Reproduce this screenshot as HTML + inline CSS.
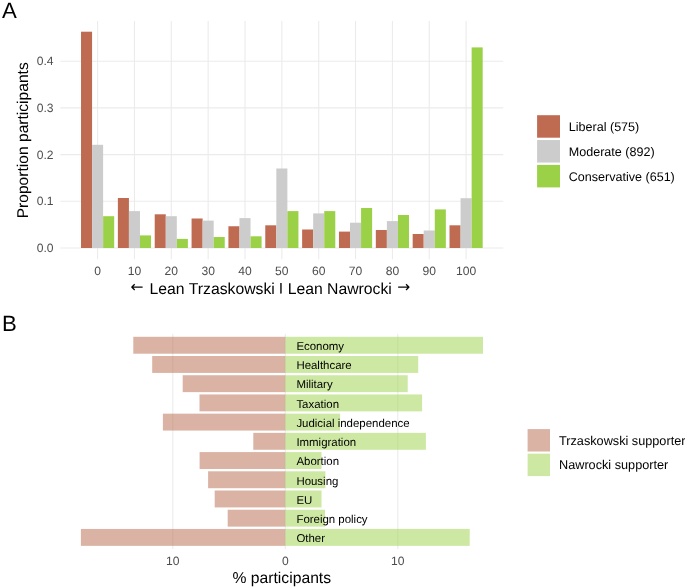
<!DOCTYPE html>
<html><head><meta charset="utf-8"><title>Figure</title>
<style>html,body{margin:0;padding:0;background:#fff}svg{display:block}</style></head>
<body>
<svg width="685" height="588" viewBox="0 0 685 588" text-rendering="geometricPrecision" font-family="'Liberation Sans', Arial, Helvetica, sans-serif">
<rect width="685" height="588" fill="#fff"/>
<g stroke="#EBEBEB" stroke-width="1.07" fill="none">
<line x1="60.4" x2="503.2" y1="248.00" y2="248.00"/>
<line x1="60.4" x2="503.2" y1="201.30" y2="201.30"/>
<line x1="60.4" x2="503.2" y1="154.60" y2="154.60"/>
<line x1="60.4" x2="503.2" y1="107.90" y2="107.90"/>
<line x1="60.4" x2="503.2" y1="61.20" y2="61.20"/>
<line x1="97.60" x2="97.60" y1="21.0" y2="259.2"/>
<line x1="134.45" x2="134.45" y1="21.0" y2="259.2"/>
<line x1="171.30" x2="171.30" y1="21.0" y2="259.2"/>
<line x1="208.15" x2="208.15" y1="21.0" y2="259.2"/>
<line x1="245.00" x2="245.00" y1="21.0" y2="259.2"/>
<line x1="281.85" x2="281.85" y1="21.0" y2="259.2"/>
<line x1="318.70" x2="318.70" y1="21.0" y2="259.2"/>
<line x1="355.55" x2="355.55" y1="21.0" y2="259.2"/>
<line x1="392.40" x2="392.40" y1="21.0" y2="259.2"/>
<line x1="429.25" x2="429.25" y1="21.0" y2="259.2"/>
<line x1="466.10" x2="466.10" y1="21.0" y2="259.2"/>
</g>
<rect x="81.02" y="31.70" width="11.05" height="216.30" fill="#BF6B52"/>
<rect x="92.07" y="144.80" width="11.05" height="103.20" fill="#CCCCCC"/>
<rect x="103.13" y="216.20" width="11.05" height="31.80" fill="#9BD146"/>
<rect x="117.87" y="198.00" width="11.05" height="50.00" fill="#BF6B52"/>
<rect x="128.92" y="211.10" width="11.05" height="36.90" fill="#CCCCCC"/>
<rect x="139.98" y="235.40" width="11.05" height="12.60" fill="#9BD146"/>
<rect x="154.72" y="214.30" width="11.05" height="33.70" fill="#BF6B52"/>
<rect x="165.77" y="216.20" width="11.05" height="31.80" fill="#CCCCCC"/>
<rect x="176.83" y="238.90" width="11.05" height="9.10" fill="#9BD146"/>
<rect x="191.57" y="218.50" width="11.05" height="29.50" fill="#BF6B52"/>
<rect x="202.62" y="220.60" width="11.05" height="27.40" fill="#CCCCCC"/>
<rect x="213.68" y="237.00" width="11.05" height="11.00" fill="#9BD146"/>
<rect x="228.42" y="226.25" width="11.05" height="21.75" fill="#BF6B52"/>
<rect x="239.47" y="218.10" width="11.05" height="29.90" fill="#CCCCCC"/>
<rect x="250.53" y="236.30" width="11.05" height="11.70" fill="#9BD146"/>
<rect x="265.27" y="225.30" width="11.05" height="22.70" fill="#BF6B52"/>
<rect x="276.32" y="168.50" width="11.05" height="79.50" fill="#CCCCCC"/>
<rect x="287.38" y="211.10" width="11.05" height="36.90" fill="#9BD146"/>
<rect x="302.12" y="229.50" width="11.05" height="18.50" fill="#BF6B52"/>
<rect x="313.17" y="213.40" width="11.05" height="34.60" fill="#CCCCCC"/>
<rect x="324.23" y="211.10" width="11.05" height="36.90" fill="#9BD146"/>
<rect x="338.97" y="231.60" width="11.05" height="16.40" fill="#BF6B52"/>
<rect x="350.02" y="222.70" width="11.05" height="25.30" fill="#CCCCCC"/>
<rect x="361.08" y="208.00" width="11.05" height="40.00" fill="#9BD146"/>
<rect x="375.82" y="230.00" width="11.05" height="18.00" fill="#BF6B52"/>
<rect x="386.87" y="221.10" width="11.05" height="26.90" fill="#CCCCCC"/>
<rect x="397.93" y="215.00" width="11.05" height="33.00" fill="#9BD146"/>
<rect x="412.67" y="234.00" width="11.05" height="14.00" fill="#BF6B52"/>
<rect x="423.72" y="230.50" width="11.05" height="17.50" fill="#CCCCCC"/>
<rect x="434.78" y="209.40" width="11.05" height="38.60" fill="#9BD146"/>
<rect x="449.52" y="225.30" width="11.05" height="22.70" fill="#BF6B52"/>
<rect x="460.57" y="198.20" width="11.05" height="49.80" fill="#CCCCCC"/>
<rect x="471.63" y="47.40" width="11.05" height="200.60" fill="#9BD146"/>
<g font-size="12.1" fill="#4D4D4D" text-anchor="end">
<text x="53.6" y="251.90">0.0</text>
<text x="53.6" y="205.20">0.1</text>
<text x="53.6" y="158.50">0.2</text>
<text x="53.6" y="111.80">0.3</text>
<text x="53.6" y="65.10">0.4</text>
</g>
<g font-size="12.1" fill="#4D4D4D" text-anchor="middle">
<text x="97.60" y="275.1">0</text>
<text x="134.45" y="275.1">10</text>
<text x="171.30" y="275.1">20</text>
<text x="208.15" y="275.1">30</text>
<text x="245.00" y="275.1">40</text>
<text x="281.85" y="275.1">50</text>
<text x="318.70" y="275.1">60</text>
<text x="355.55" y="275.1">70</text>
<text x="392.40" y="275.1">80</text>
<text x="429.25" y="275.1">90</text>
<text x="466.10" y="275.1">100</text>
</g>
<text y="293.6" font-size="15.75" fill="#000"><tspan x="130.5" font-family="'DejaVu Sans', sans-serif" font-size="15.5" dy="-1.6">←</tspan><tspan x="149.6" dy="1.6">Lean Trzaskowski </tspan><tspan x="279.6" font-size="10.8" dy="-3.1" stroke="#000" stroke-width="0.45">|</tspan><tspan x="287.7" dy="3.1">Lean Nawrocki</tspan><tspan x="397.2" font-family="'DejaVu Sans', sans-serif" font-size="15.5" dy="-1.6">→</tspan></text>
<text transform="translate(28.3,140.3) rotate(-90)" font-size="15.6" text-anchor="middle" fill="#000">Proportion participants</text>
<text x="2.1" y="18" font-size="22.2" fill="#000">A</text>
<text x="2.1" y="331.3" font-size="22.2" fill="#000">B</text>
<rect x="537.1" y="115.20" width="22.9" height="22.5" fill="#BF6B52"/>
<text x="568.8" y="130.90" font-size="12.55" fill="#000">Liberal (575)</text>
<rect x="537.1" y="140.05" width="22.9" height="22.5" fill="#CCCCCC"/>
<text x="568.8" y="156.05" font-size="12.55" fill="#000">Moderate (892)</text>
<rect x="537.1" y="164.90" width="22.9" height="22.5" fill="#9BD146"/>
<text x="568.8" y="180.60" font-size="12.55" fill="#000">Conservative (651)</text>
<g stroke="#EBEBEB" stroke-width="1.07" fill="none">
<line x1="172.80" x2="172.80" y1="333.72" y2="548.93"/>
<line x1="285.30" x2="285.30" y1="333.72" y2="548.93"/>
<line x1="397.80" x2="397.80" y1="333.72" y2="548.93"/>
</g>
<rect x="133.30" y="336.80" width="152.00" height="16.9" fill="#B5674B" fill-opacity="0.5"/>
<rect x="285.30" y="336.80" width="197.70" height="16.9" fill="#9BD146" fill-opacity="0.5"/>
<text x="296.4" y="350.05" font-size="11.45" fill="#000">Economy</text>
<rect x="152.20" y="356.01" width="133.10" height="16.9" fill="#B5674B" fill-opacity="0.5"/>
<rect x="285.30" y="356.01" width="132.90" height="16.9" fill="#9BD146" fill-opacity="0.5"/>
<text x="296.4" y="369.26" font-size="11.45" fill="#000">Healthcare</text>
<rect x="182.70" y="375.23" width="102.60" height="16.9" fill="#B5674B" fill-opacity="0.5"/>
<rect x="285.30" y="375.23" width="122.40" height="16.9" fill="#9BD146" fill-opacity="0.5"/>
<text x="296.4" y="388.48" font-size="11.45" fill="#000">Military</text>
<rect x="199.50" y="394.44" width="85.80" height="16.9" fill="#B5674B" fill-opacity="0.5"/>
<rect x="285.30" y="394.44" width="136.80" height="16.9" fill="#9BD146" fill-opacity="0.5"/>
<text x="296.4" y="407.69" font-size="11.45" fill="#000">Taxation</text>
<rect x="162.90" y="413.66" width="122.40" height="16.9" fill="#B5674B" fill-opacity="0.5"/>
<rect x="285.30" y="413.66" width="54.80" height="16.9" fill="#9BD146" fill-opacity="0.5"/>
<text x="296.4" y="426.91" font-size="11.45" fill="#000">Judicial independence</text>
<rect x="253.30" y="432.88" width="32.00" height="16.9" fill="#B5674B" fill-opacity="0.5"/>
<rect x="285.30" y="432.88" width="140.60" height="16.9" fill="#9BD146" fill-opacity="0.5"/>
<text x="296.4" y="446.12" font-size="11.45" fill="#000">Immigration</text>
<rect x="199.60" y="452.09" width="85.70" height="16.9" fill="#B5674B" fill-opacity="0.5"/>
<rect x="285.30" y="452.09" width="36.20" height="16.9" fill="#9BD146" fill-opacity="0.5"/>
<text x="296.4" y="465.34" font-size="11.45" fill="#000">Abortion</text>
<rect x="208.10" y="471.31" width="77.20" height="16.9" fill="#B5674B" fill-opacity="0.5"/>
<rect x="285.30" y="471.31" width="40.10" height="16.9" fill="#9BD146" fill-opacity="0.5"/>
<text x="296.4" y="484.56" font-size="11.45" fill="#000">Housing</text>
<rect x="214.70" y="490.52" width="70.60" height="16.9" fill="#B5674B" fill-opacity="0.5"/>
<rect x="285.30" y="490.52" width="36.20" height="16.9" fill="#9BD146" fill-opacity="0.5"/>
<text x="296.4" y="503.77" font-size="11.45" fill="#000">EU</text>
<rect x="227.70" y="509.73" width="57.60" height="16.9" fill="#B5674B" fill-opacity="0.5"/>
<rect x="285.30" y="509.73" width="39.70" height="16.9" fill="#9BD146" fill-opacity="0.5"/>
<text x="296.4" y="522.98" font-size="11.45" fill="#000">Foreign policy</text>
<rect x="80.90" y="528.95" width="204.40" height="16.9" fill="#B5674B" fill-opacity="0.5"/>
<rect x="285.30" y="528.95" width="184.40" height="16.9" fill="#9BD146" fill-opacity="0.5"/>
<text x="296.4" y="542.20" font-size="11.45" fill="#000">Other</text>
<g font-size="12.1" fill="#4D4D4D" text-anchor="middle">
<text x="172.80" y="564.6">10</text>
<text x="285.30" y="564.6">0</text>
<text x="397.80" y="564.6">10</text>
</g>
<text x="281.8" y="582.7" font-size="15.7" text-anchor="middle" fill="#000">% participants</text>
<rect x="527.6" y="429.10" width="22.4" height="22.4" fill="#B5674B" fill-opacity="0.5"/>
<text x="559.0" y="444.80" font-size="12.7" fill="#000">Trzaskowski supporter</text>
<rect x="527.6" y="453.70" width="22.4" height="22.4" fill="#9BD146" fill-opacity="0.5"/>
<text x="559.0" y="469.15" font-size="12.7" fill="#000">Nawrocki supporter</text>
</svg>
</body></html>
